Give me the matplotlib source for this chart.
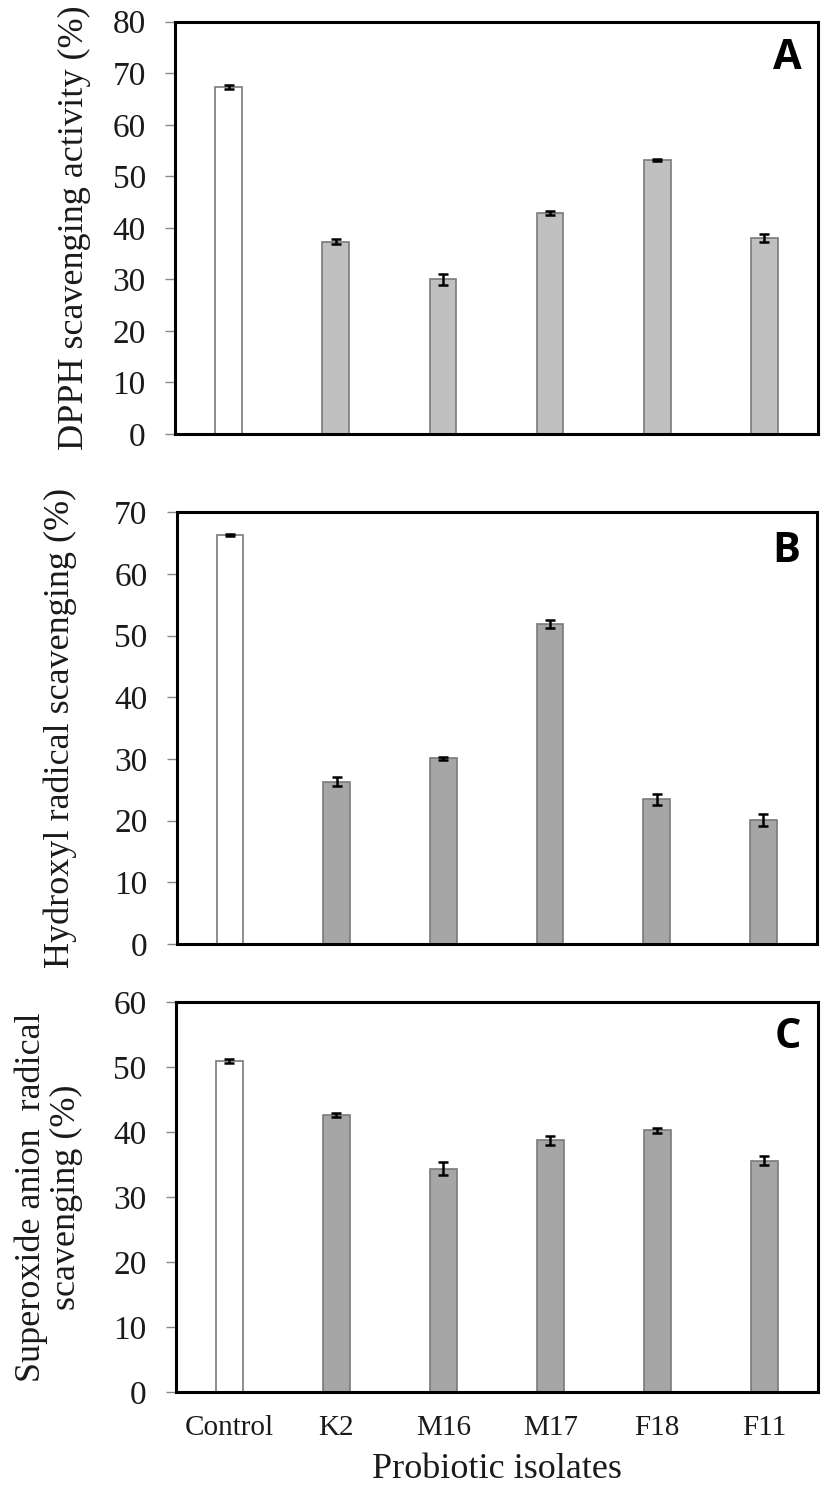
import matplotlib
matplotlib.use("Agg")
import matplotlib.pyplot as plt
import numpy as np

# isolates on the x axis
isolates = ["Control", "K2", "M16", "M17", "F18", "F11"]

# panel A - DPPH scavenging activity (%)
dpph = [67.4, 37.3, 30.0, 42.9, 53.1, 38.1]
dpph_err = [0.4, 0.5, 1.0, 0.4, 0.2, 0.8]

# panel B - hydroxyl radical scavenging (%)
hydroxyl = [66.3, 26.3, 30.1, 51.9, 23.5, 20.1]
hydroxyl_err = [0.2, 0.7, 0.3, 0.6, 0.9, 1.0]

# panel C - superoxide anion radical scavenging (%)
superoxide = [51.0, 42.6, 34.4, 38.8, 40.3, 35.6]
superoxide_err = [0.3, 0.3, 1.0, 0.7, 0.4, 0.7]

serif = "Liberation Serif"

fig = plt.figure(figsize=(8.35, 14.97), dpi=100)

panels = [
    # values, errors, ymax, bar colour, label, panel letter, axes rect, label x
    (dpph, dpph_err, 80, "#c0c0c0", "DPPH scavenging activity (%)", "A",
     [0.2096, 0.7101, 0.7700, 0.2754], -0.13),
    (hydroxyl, hydroxyl_err, 70, "#a6a6a6", "Hydroxyl radical scavenging (%)", "B",
     [0.2116, 0.3694, 0.7665, 0.2884], -0.155),
    (superoxide, superoxide_err, 60, "#a6a6a6",
     "Superoxide anion  radical\nscavenging (%)", "C",
     [0.2104, 0.0699, 0.7690, 0.2606], -0.145),
]

x = np.arange(len(isolates))

for i, (vals, errs, ymax, col, ylab, letter, rect, labx) in enumerate(panels):
    ax = fig.add_axes(rect)
    colors = ["white"] + [col] * (len(vals) - 1)
    ax.bar(x, vals, width=0.25, color=colors, edgecolor="#7a7a7a", linewidth=1.2, zorder=2)
    ax.errorbar(x, vals, yerr=errs, fmt="none", ecolor="black", elinewidth=1.8,
                capsize=3.5, capthick=1.8, zorder=3)
    ax.set_xlim(-0.5, len(isolates) - 0.5)
    ax.set_ylim(0, ymax)
    ax.set_yticks(np.arange(0, ymax + 1, 10))
    for s in ax.spines.values():
        s.set_linewidth(2.2)
        s.set_color("black")
    ax.tick_params(axis="y", direction="out", length=7, width=1, color="#888888",
                   pad=14, labelsize=24)
    ax.tick_params(axis="x", length=0)
    for t in ax.get_yticklabels():
        t.set_fontfamily(serif)
        t.set_color("#1a1a1a")
    ax.set_ylabel(ylab, fontsize=26, family=serif, color="#1a1a1a",
                  linespacing=1.05, multialignment="center")
    ax.yaxis.set_label_coords(labx, 0.5)
    ax.text(0.953, 0.91, letter, transform=ax.transAxes, fontsize=30,
            fontweight="bold", family="Open Sans", ha="center", va="center")
    ax.set_xticks(x)
    if i < 2:
        ax.set_xticklabels([])
    else:
        ax.set_xticklabels(isolates, fontsize=21, family=serif, color="#1a1a1a")
        ax.tick_params(axis="x", pad=16)
        ax.set_xlabel("Probiotic isolates", fontsize=26, family=serif,
                      color="#1a1a1a", labelpad=9)

fig.savefig("out.png", dpi=100)
